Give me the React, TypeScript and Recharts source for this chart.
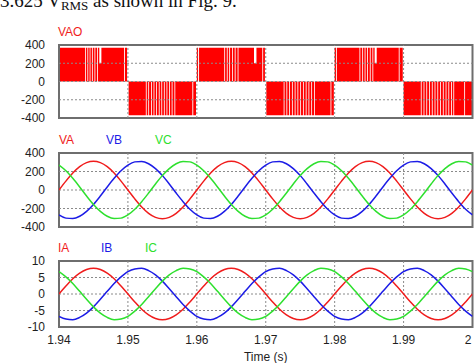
import {
  ComposedChart,
  Area,
  Line,
  XAxis,
  YAxis,
  ReferenceLine,
  ReferenceArea,
} from "recharts";

// time ticks (s)
const timeTicks = [1.94, 1.95, 1.96, 1.97, 1.98, 1.99, 2];
const timeGrid = [1.95, 1.96, 1.97, 1.98, 1.99];

// VAO pwm: switching instants and level after each edge
const vaoTime = [
  1.94, 1.9438, 1.94392, 1.94412, 1.94424, 1.94445, 1.94456, 1.94478, 1.9449, 1.94515, 1.94527,
  1.94552, 1.94564, 1.94585, 1.94615, 1.94945, 1.94958, 1.94988,
  1.9501, 1.9526, 1.95272, 1.95295, 1.95307, 1.95335, 1.95347, 1.95372, 1.95384, 1.9541, 1.95422,
  1.95448, 1.9546, 1.95485, 1.95497, 1.95522, 1.95534, 1.9556, 1.95572, 1.95598, 1.9561, 1.95635,
  1.95647, 1.95675, 1.95687, 1.95935, 1.95948, 1.95988,
  1.96, 1.96018, 1.96032, 1.96398, 1.9641, 1.96435, 1.96447, 1.9647, 1.96482, 1.9651, 1.96522,
  1.9655, 1.96562, 1.96592, 1.96604, 1.9683, 1.96865, 1.9695, 1.96962, 1.96988,
  1.97008, 1.9726, 1.97272, 1.973, 1.97312, 1.9734, 1.97352, 1.9738, 1.97392, 1.9742, 1.97432,
  1.9746, 1.97472, 1.975, 1.97512, 1.9754, 1.97552, 1.9758, 1.97592, 1.9762, 1.97632, 1.9766,
  1.97672, 1.977, 1.97712, 1.9794, 1.97952, 1.97988,
  1.98, 1.9802, 1.98032, 1.9836, 1.98372, 1.984, 1.98412, 1.98435, 1.98447, 1.9847, 1.98482,
  1.9851, 1.98522, 1.98548, 1.9856, 1.9858, 1.9861, 1.9893, 1.98942, 1.98988,
  1.99, 1.9925, 1.99262, 1.9929, 1.99302, 1.9933, 1.99342, 1.9937, 1.99382, 1.9941, 1.99422,
  1.9945, 1.99462, 1.9949, 1.99502, 1.9953, 1.99542, 1.9957, 1.99582, 1.9961, 1.99622, 1.9965,
  1.99662, 1.9969, 1.99702, 1.99722, 1.99734, 1.9988, 1.99892, 2.0,
];
const vaoLevel = [
  370, 0, 370, 0, 370, 0, 370, 0, 370, 0, 370,
  0, 370, 200, 370, 0, 370, 0,
  -370, 0, -370, 0, -370, 0, -370, 0, -370, 0, -370,
  0, -370, 0, -370, 0, -370, 0, -370, 0, -370, 0,
  -370, 0, -370, 0, -370, 0,
  370, 0, 370, 0, 370, 0, 370, 0, 370, 0, 370,
  0, 370, 0, 370, 200, 370, 0, 370, 0,
  -370, 0, -370, 0, -370, 0, -370, 0, -370, 0, -370,
  0, -370, 0, -370, 0, -370, 0, -370, 0, -370, 0,
  -370, 0, -370, 0, -370, 0,
  370, 0, 370, 0, 370, 0, 370, 0, 370, 0, 370,
  0, 370, 0, 370, 200, 370, 0, 370, 0,
  -370, 0, -370, 0, -370, 0, -370, 0, -370, 0, -370,
  0, -370, 0, -370, 0, -370, 0, -370, 0, -370, 0,
  -370, 0, -370, 0, -370, 0, -370, -370,
];

// sample times for phase quantities (1 ms)
const sampleTime = [
  1.94, 1.941, 1.942, 1.943, 1.944, 1.945, 1.946, 1.947, 1.948, 1.949,
  1.95, 1.951, 1.952, 1.953, 1.954, 1.955, 1.956, 1.957, 1.958, 1.959,
  1.96, 1.961, 1.962, 1.963, 1.964, 1.965, 1.966, 1.967, 1.968, 1.969,
  1.97, 1.971, 1.972, 1.973, 1.974, 1.975, 1.976, 1.977, 1.978, 1.979,
  1.98, 1.981, 1.982, 1.983, 1.984, 1.985, 1.986, 1.987, 1.988, 1.989,
  1.99, 1.991, 1.992, 1.993, 1.994, 1.995, 1.996, 1.997, 1.998, 1.999, 2.0,
];

const vA = [
  0, 96, 183, 252, 296, 311, 296, 252, 183, 96, 0, -96, -183, -252, -296, -311, -296, -252, -183, -96,
  0, 96, 183, 252, 296, 311, 296, 252, 183, 96, 0, -96, -183, -252, -296, -311, -296, -252, -183, -96,
  0, 96, 183, 252, 296, 311, 296, 252, 183, 96, 0, -96, -183, -252, -296, -311, -296, -252, -183, -96,
  0,
];
const vB = [
  -269, -304, -309, -284, -231, -156, -65, 33, 126, 208, 269, 304, 309, 284, 231, 156, 65, -33, -126, -208,
  -269, -304, -309, -284, -231, -156, -65, 33, 126, 208, 269, 304, 309, 284, 231, 156, 65, -33, -126, -208,
  -269, -304, -309, -284, -231, -156, -65, 33, 126, 208, 269, 304, 309, 284, 231, 156, 65, -33, -126, -208,
  -269,
];
const vC = [
  269, 208, 126, 33, -65, -156, -231, -284, -309, -304, -269, -208, -126, -33, 65, 156, 231, 284, 309, 304,
  269, 208, 126, 33, -65, -156, -231, -284, -309, -304, -269, -208, -126, -33, 65, 156, 231, 284, 309, 304,
  269, 208, 126, 33, -65, -156, -231, -284, -309, -304, -269, -208, -126, -33, 65, 156, 231, 284, 309, 304,
  269,
];

const iA = [
  0, 2.4, 4.6, 6.3, 7.4, 7.8, 7.4, 6.3, 4.6, 2.4, 0, -2.4, -4.6, -6.3, -7.4, -7.8, -7.4, -6.3, -4.6, -2.4,
  0, 2.4, 4.6, 6.3, 7.4, 7.8, 7.4, 6.3, 4.6, 2.4, 0, -2.4, -4.6, -6.3, -7.4, -7.8, -7.4, -6.3, -4.6, -2.4,
  0, 2.4, 4.6, 6.3, 7.4, 7.8, 7.4, 6.3, 4.6, 2.4, 0, -2.4, -4.6, -6.3, -7.4, -7.8, -7.4, -6.3, -4.6, -2.4,
  0,
];
const iB = [
  -6.8, -7.6, -7.8, -7.1, -5.8, -3.9, -1.6, 0.8, 3.2, 5.2, 6.8, 7.6, 7.8, 7.1, 5.8, 3.9, 1.6, -0.8, -3.2, -5.2,
  -6.8, -7.6, -7.8, -7.1, -5.8, -3.9, -1.6, 0.8, 3.2, 5.2, 6.8, 7.6, 7.8, 7.1, 5.8, 3.9, 1.6, -0.8, -3.2, -5.2,
  -6.8, -7.6, -7.8, -7.1, -5.8, -3.9, -1.6, 0.8, 3.2, 5.2, 6.8, 7.6, 7.8, 7.1, 5.8, 3.9, 1.6, -0.8, -3.2, -5.2,
  -6.8,
];
const iC = [
  6.8, 5.2, 3.2, 0.8, -1.6, -3.9, -5.8, -7.1, -7.8, -7.6, -6.8, -5.2, -3.2, -0.8, 1.6, 3.9, 5.8, 7.1, 7.8, 7.6,
  6.8, 5.2, 3.2, 0.8, -1.6, -3.9, -5.8, -7.1, -7.8, -7.6, -6.8, -5.2, -3.2, -0.8, 1.6, 3.9, 5.8, 7.1, 7.8, 7.6,
  6.8, 5.2, 3.2, 0.8, -1.6, -3.9, -5.8, -7.1, -7.8, -7.6, -6.8, -5.2, -3.2, -0.8, 1.6, 3.9, 5.8, 7.1, 7.8, 7.6,
  6.8,
];

const voltTicks = [400, 200, 0, -200, -400];
const voltGrid = [200, 0, -200];
const currTicks = [10, 5, 0, -5, -10];
const currGrid = [5, 0, -5];

const RED = "#f01c1c";
const BLUE = "#1c1ce6";
const GREEN = "#2ee02e";
const GRID = "#8a8a8a";
const FRAME = "#6e6e6e";
const TEXT = "#1e1e1e";

const vaoData = vaoTime.map((t, i) => ({ t, v: vaoLevel[i] }));
const phaseData = sampleTime.map((t, i) => ({
  t,
  va: vA[i],
  vb: vB[i],
  vc: vC[i],
  ia: iA[i],
  ib: iB[i],
  ic: iC[i],
}));

const yTick = { fontSize: 12, fill: TEXT };

function gridLines(yGrid: number[]) {
  return [
    ...timeGrid.map((x) => (
      <ReferenceLine key={"x" + x} x={x} stroke={GRID} strokeDasharray="2 2" />
    )),
    ...yGrid.map((y) => (
      <ReferenceLine key={"y" + y} y={y} stroke={GRID} strokeDasharray="2 2" />
    )),
  ];
}

function TimeTick(props: any) {
  const { x, y, payload } = props;
  const last = payload.value === 2;
  return (
    <text
      x={last ? x - 1 : x}
      y={y}
      dy="0.71em"
      textAnchor={last ? "end" : "middle"}
      fontSize={12}
      fill={TEXT}
    >
      {last ? "2" : payload.value.toFixed(2)}
    </text>
  );
}

const label = (text: string, left: number, top: number, color: string) => (
  <span
    style={{
      position: "absolute",
      left,
      top,
      fontSize: 12,
      lineHeight: "12px",
      color,
    }}
  >
    {text}
  </span>
);

export default function App() {
  return (
    <div
      style={{
        position: "absolute",
        left: 0,
        top: 0,
        width: 474,
        height: 363,
        overflow: "hidden",
        background: "#fff",
        fontFamily: '"Liberation Sans", Arial, sans-serif',
      }}
    >
      <div
        style={{
          position: "absolute",
          left: 0,
          top: -9,
          fontFamily: '"Liberation Serif", "Times New Roman", serif',
          fontSize: 19,
          lineHeight: "19px",
          whiteSpace: "nowrap",
          color: "#111",
        }}
      >
        3.625 V<sub style={{ fontSize: 13, verticalAlign: -3 }}>RMS</sub> as shown in Fig. 9.
      </div>

      {label("VAO", 58, 25.5, RED)}
      {label("VA", 59, 133.5, RED)}
      {label("VB", 106, 133.5, BLUE)}
      {label("VC", 155, 133.5, GREEN)}
      {label("IA", 58, 241.5, RED)}
      {label("IB", 101, 241.5, BLUE)}
      {label("IC", 145, 241.5, GREEN)}

      {/* VAO panel */}
      <div style={{ position: "absolute", left: 0, top: 0 }}>
        <ComposedChart
          width={474}
          height={125}
          data={vaoData}
          margin={{ top: 45, right: 1.5, bottom: 7, left: 0 }}
        >
          <XAxis type="number" dataKey="t" domain={[1.94, 2]} hide allowDataOverflow />
          <YAxis
            domain={[-400, 400]}
            ticks={voltTicks}
            width={59}
            axisLine={false}
            tickLine={false}
            tickSize={0}
            tickMargin={14}
            tick={yTick}
            interval={0}
          />
          {gridLines(voltGrid)}
          <Area
            dataKey="v"
            type="stepAfter"
            baseValue={0}
            fill="#ff0000"
            fillOpacity={1}
            stroke="none"
            isAnimationActive={false}
          />
          <ReferenceArea x1={1.94} x2={2} y1={-400} y2={400} fill="none" stroke={FRAME} strokeWidth={2} />
        </ComposedChart>
      </div>

      {/* phase voltages */}
      <div style={{ position: "absolute", left: 0, top: 125 }}>
        <ComposedChart
          width={474}
          height={110}
          data={phaseData}
          margin={{ top: 28, right: 1.5, bottom: 8, left: 0 }}
        >
          <XAxis type="number" dataKey="t" domain={[1.94, 2]} hide allowDataOverflow />
          <YAxis
            domain={[-400, 400]}
            ticks={voltTicks}
            width={59}
            axisLine={false}
            tickLine={false}
            tickSize={0}
            tickMargin={14}
            tick={yTick}
            interval={0}
          />
          {gridLines(voltGrid)}
          <Line dataKey="va" type="monotone" stroke={RED} strokeWidth={1.5} dot={false} isAnimationActive={false} />
          <Line dataKey="vb" type="monotone" stroke={BLUE} strokeWidth={1.5} dot={false} isAnimationActive={false} />
          <Line dataKey="vc" type="monotone" stroke={GREEN} strokeWidth={1.5} dot={false} isAnimationActive={false} />
          <ReferenceArea x1={1.94} x2={2} y1={-400} y2={400} fill="none" stroke={FRAME} strokeWidth={2} />
        </ComposedChart>
      </div>

      {/* phase currents */}
      <div style={{ position: "absolute", left: 0, top: 235 }}>
        <ComposedChart
          width={474}
          height={128}
          data={phaseData}
          margin={{ top: 26, right: 1.5, bottom: 0, left: 0 }}
        >
          <XAxis
            type="number"
            dataKey="t"
            domain={[1.94, 2]}
            ticks={timeTicks}
            interval={0}
            height={36}
            axisLine={false}
            tickLine={false}
            tickSize={0}
            tickMargin={8}
            tick={<TimeTick />}
            allowDataOverflow
            label={{ value: "Time (s)", position: "insideBottom", offset: 2, fontSize: 12, fill: TEXT }}
          />
          <YAxis
            domain={[-10, 10]}
            ticks={currTicks}
            width={59}
            axisLine={false}
            tickLine={false}
            tickSize={0}
            tickMargin={14}
            tick={yTick}
            interval={0}
          />
          {gridLines(currGrid)}
          <Line dataKey="ia" type="monotone" stroke={RED} strokeWidth={1.5} dot={false} isAnimationActive={false} />
          <Line dataKey="ib" type="monotone" stroke={BLUE} strokeWidth={1.5} dot={false} isAnimationActive={false} />
          <Line dataKey="ic" type="monotone" stroke={GREEN} strokeWidth={1.5} dot={false} isAnimationActive={false} />
          <ReferenceArea x1={1.94} x2={2} y1={-10} y2={10} fill="none" stroke={FRAME} strokeWidth={2} />
        </ComposedChart>
      </div>
    </div>
  );
}
